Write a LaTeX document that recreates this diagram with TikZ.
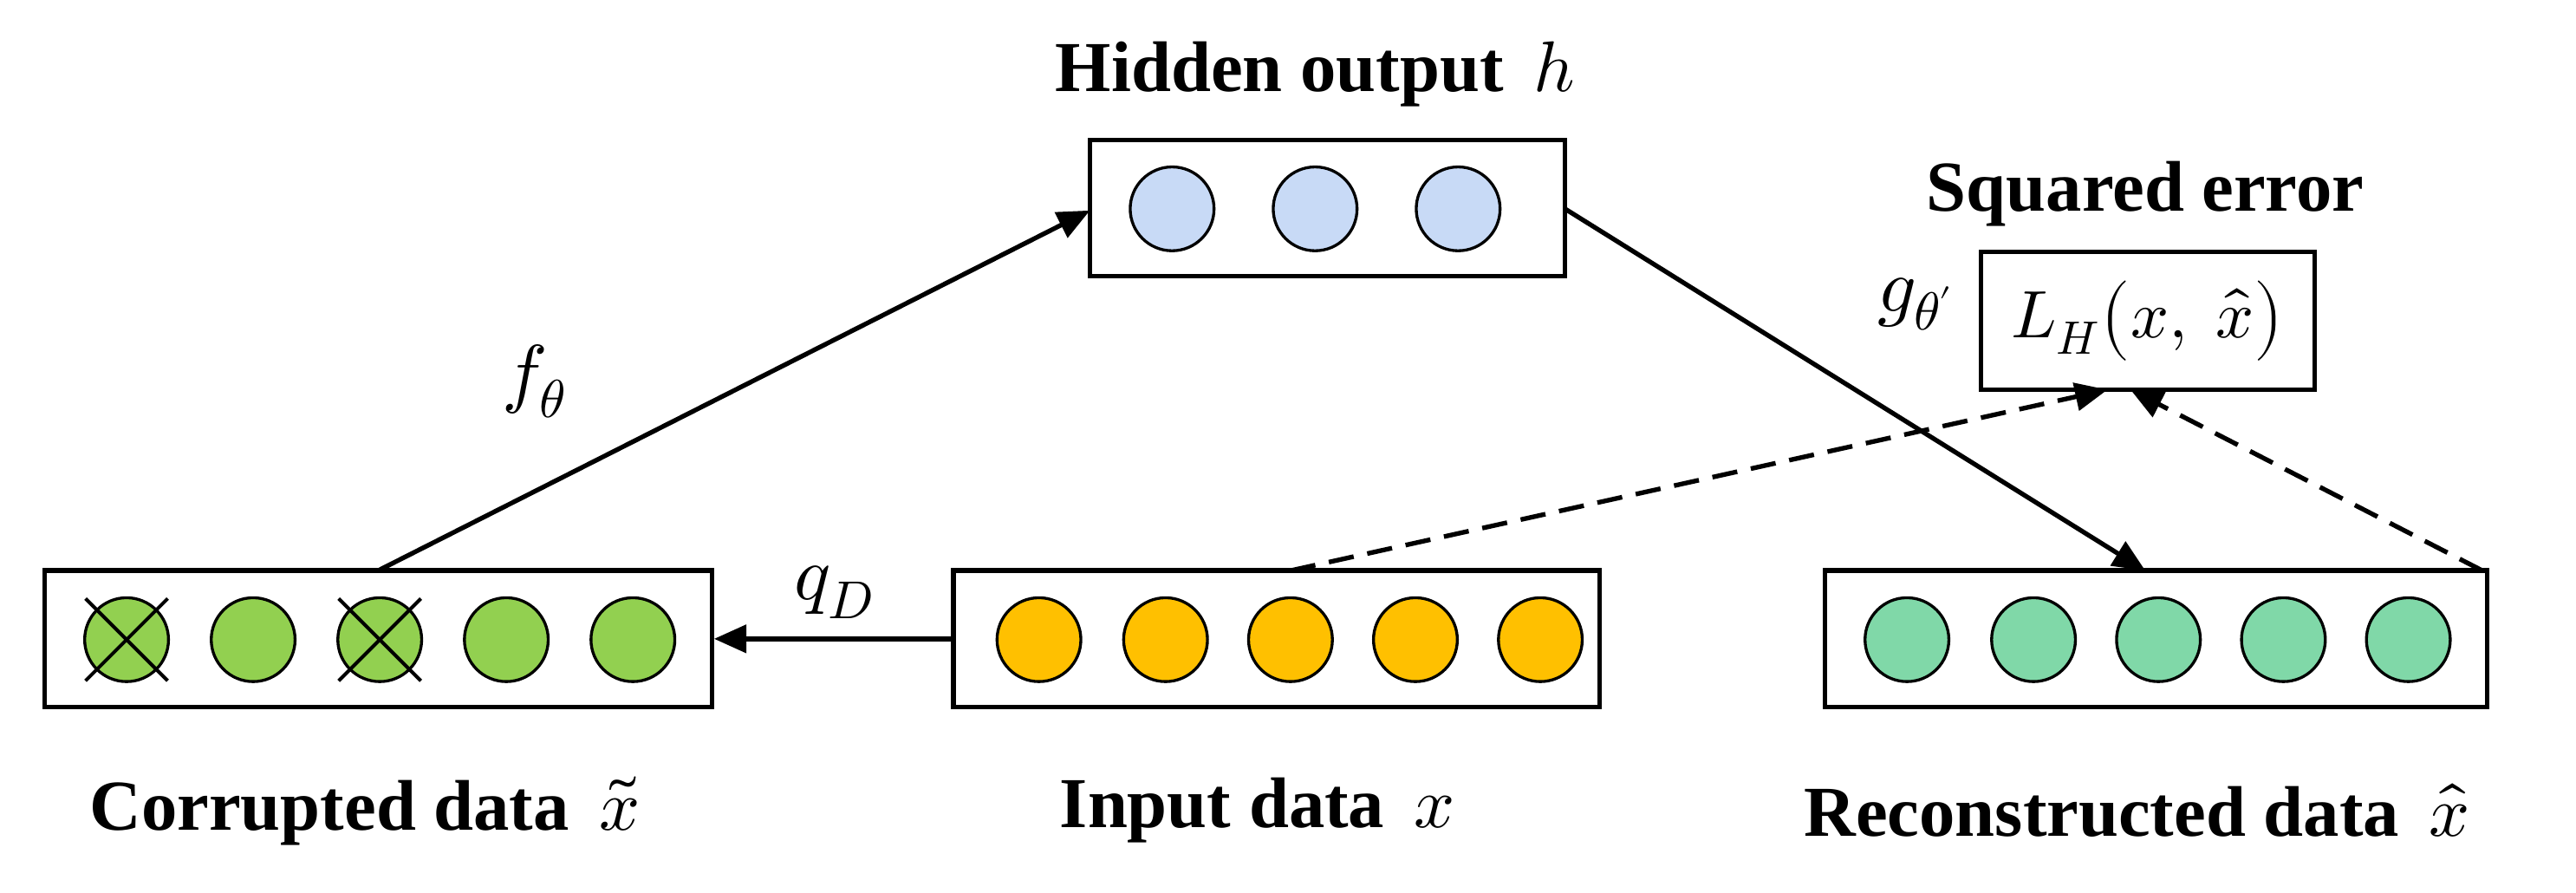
\documentclass[tikz,border=0pt]{standalone}
\usepackage{fontspec}
\usepackage{unicode-math}
\setmainfont{Liberation Serif}
\setmathfont{Latin Modern Math}
\usetikzlibrary{arrows.meta,calc}
\begin{document}
\begin{tikzpicture}[x=0.05cm,y=-0.05cm,
  box/.style={draw,line width=4pt,inner sep=0pt},
  cir/.style={circle,draw,line width=2.5pt,minimum size=2.55cm,inner sep=0pt},
  lab/.style={font=\fontsize{62}{70}\selectfont\bfseries},
  con/.style={line width=4pt,-{Triangle[length=28pt,width=24pt]}},
  dcon/.style={con,dash pattern=on 22pt off 12pt}]
\useasboundingbox (0,0) rectangle (1567,543);
\definecolor{hb}{RGB}{200,218,246}
\definecolor{gr}{RGB}{146,208,80}
\definecolor{og}{RGB}{255,192,0}
\definecolor{tl}{RGB}{128,216,168}
% boxes
\node[box,minimum width=289*0.05cm,minimum height=83*0.05cm] (H) at (807.5,126.5) {};
\node[box,minimum width=203*0.05cm,minimum height=84*0.05cm] (E) at (1306.5,195) {};
\node[box,minimum width=406*0.05cm,minimum height=83*0.05cm] (C) at (230,388.5) {};
\node[box,minimum width=393*0.05cm,minimum height=83*0.05cm] (I) at (776.5,388.5) {};
\node[box,minimum width=403*0.05cm,minimum height=83*0.05cm] (R) at (1311.5,388.5) {};
% circles
\foreach \x [count=\i] in {713,800,887} \node[cir,fill=hb] (h\i) at (\x,127) {};
\foreach \x [count=\i] in {77,154,231,308,385} \node[cir,fill=gr] (c\i) at (\x,389) {};
\foreach \x [count=\i] in {632,709,785,861,937} \node[cir,fill=og] (i\i) at (\x,389) {};
\foreach \x [count=\i] in {1160,1237,1313,1389,1465} \node[cir,fill=tl] (r\i) at (\x,389) {};
\foreach \c in {c1,c3}{
  \draw[line width=3pt] ($(\c)+(-25,-25)$) -- ($(\c)+(25,25)$);
  \draw[line width=3pt] ($(\c)+(-25,25)$) -- ($(\c)+(25,-25)$);}
% texts
\node[lab] (th) at (800,45) {Hidden output \,$h$};
\node[lab] (te) at (1305,118) {Squared error};
\node at (E) {\fontsize{58}{66}\selectfont $L_H\big(x,\ \hat{x}\big)$};
\node[lab] (tc) at (222,493) {Corrupted data \,$\widetilde{x}$};
\node[lab] (ti) at (765,493) {Input data \,$x$};
\node[lab] (tr) at (1300,493) {Reconstructed data \,$\hat{x}$};
\node[font=\fontsize{66}{72}\selectfont] (f) at (325,232) {$f_\theta$};
\node[font=\fontsize{66}{72}\selectfont] (g) at (1165,185) {$g_{\theta'}$};
\node[font=\fontsize{66}{72}\selectfont] (q) at (507,360) {$q_D$};
% connectors
\coordinate (ct) at (230,347);
\coordinate (hl) at (663,128);
\coordinate (hr) at (952,127);
\coordinate (rt) at (1305,347);
\coordinate (it) at (785,347);
\coordinate (e1) at (1282,237);
\coordinate (e2) at (1296,237);
\coordinate (rr) at (1510,347);
\draw[con] (ct) -- (hl);
\draw[con] (hr) -- (rt);
\draw[con] (I.west) -- (C.east);
\draw[dcon] (it) -- (e1);
\draw[dcon] (rr) -- (e2);
\end{tikzpicture}
\end{document}
